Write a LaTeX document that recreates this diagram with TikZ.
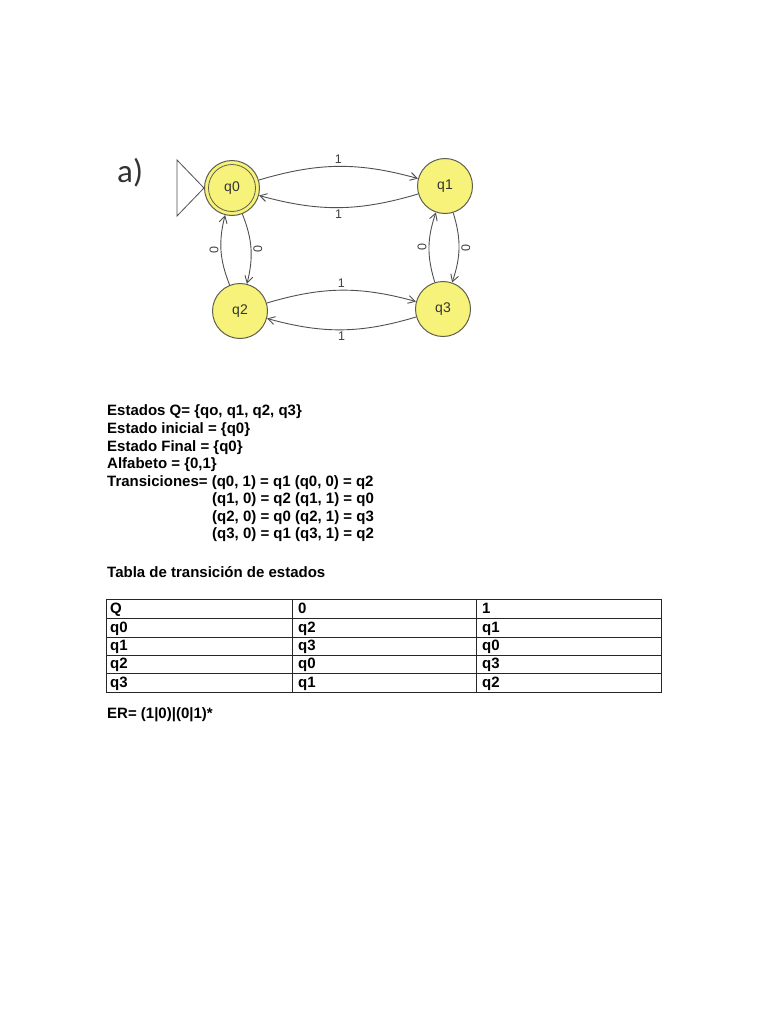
\documentclass[tikz,border=0pt]{standalone}
\usepackage{fontspec}
\setmainfont{Liberation Sans}
\newfontfamily\partfont{Carlito}
\usetikzlibrary{arrows.meta, positioning}

\definecolor{stateyellow}{RGB}{247,242,122}
\definecolor{stateline}{RGB}{95,95,80}
\definecolor{edgegray}{RGB}{80,80,80}

\begin{document}
\begin{tikzpicture}[
    x=1bp, y=-1bp,
    state/.style={
        circle, draw=stateline, fill=stateyellow, line width=1bp,
        minimum size=55bp, inner sep=0pt,
        font=\fontsize{14bp}{16bp}\selectfont, text=black!80
    },
    trans/.style={-{Straight Barb[length=7bp, width=8bp]}, draw=edgegray, line width=0.9bp},
    sym/.style={font=\fontsize{12.5bp}{14bp}\selectfont, text=black!75, inner sep=2bp},
    txt/.style={anchor=base west, inner sep=0pt, font=\fontsize{15bp}{17bp}\selectfont\bfseries},
    grid/.style={draw=black!85, line width=0.9bp}
]

% page
\fill[white] (0,0) rectangle (768,1024);
\useasboundingbox (0,0) rectangle (768,1024);

% part label
\node[anchor=base west, inner sep=0pt, font=\partfont\fontsize{33bp}{36bp}\selectfont, text=black!80] (part) at (117,182) {a)};

% States
\node[state] (q0) at (232,188) {q0};
\node[state] (q1) at (445,186) {q1};
\node[state] (q2) at (240,311) {q2};
\node[state] (q3) at (443,309) {q3};
\draw[stateline, line width=0.8bp] (q0.center) circle[radius=23.5bp];

% initial marker
\draw[edgegray, line width=0.8bp] (q0.west) -- ++(-27,-28) -- ++(0,56) -- cycle;

% Transitions on 1
\draw[trans] (q0) to[bend left=16] node[sym, above] {1} (q1);
\draw[trans] (q1) to[bend left=16] node[sym, below] {1} (q0);
\draw[trans] (q2) to[bend left=16] node[sym, above] {1} (q3);
\draw[trans] (q3) to[bend left=16] node[sym, below] {1} (q2);

% Transitions on 0
\draw[trans] (q0) to[bend left=18] node[sym, rotate=90, below] {0} (q2);
\draw[trans] (q2) to[bend left=18] node[sym, rotate=90, above] {0} (q0);
\draw[trans] (q1) to[bend left=18] node[sym, rotate=90, below] {0} (q3);
\draw[trans] (q3) to[bend left=18] node[sym, rotate=90, above] {0} (q1);

% Definition of the automaton
\node[txt] (states) at (107,415) {Estados Q= \{qo, q1, q2, q3\}};
\node[txt] (start)  at (107,433) {Estado inicial = \{q0\}};
\node[txt] (final)  at (107,451) {Estado Final = \{q0\}};
\node[txt] (alpha)  at (107,468) {Alfabeto = \{0,1\}};
\node[txt] (delta1) at (107,486) {Transiciones= (q0, 1) = q1 (q0, 0) = q2};
\node[txt] (delta2) at (212,503) {(q1, 0) = q2 (q1, 1) = q0};
\node[txt] (delta3) at (212,521) {(q2, 0) = q0 (q2, 1) = q3};
\node[txt] (delta4) at (212,538) {(q3, 0) = q1 (q3, 1) = q2};

% Transition table
\node[txt] (tabtitle) at (107,577) {Tabla de transición de estados};

\draw[grid] (106,599) rectangle (661,692);
\draw[grid] (106,618) -- (661,618);
\draw[grid] (106,637) -- (661,637);
\draw[grid] (106,655) -- (661,655);
\draw[grid] (106,673) -- (661,673);
\draw[grid] (292,599) -- (292,692);
\draw[grid] (476,599) -- (476,692);

\node[txt] (hQ)  at (110,613) {Q};
\node[txt] (h0)  at (298,613) {0};
\node[txt] (h1)  at (482,613) {1};
\node[txt] (r0)  at (110,632) {q0};
\node[txt] (r0a) at (298,632) {q2};
\node[txt] (r0b) at (482,632) {q1};
\node[txt] (r1)  at (110,650) {q1};
\node[txt] (r1a) at (298,650) {q3};
\node[txt] (r1b) at (482,650) {q0};
\node[txt] (r2)  at (110,668) {q2};
\node[txt] (r2a) at (298,668) {q0};
\node[txt] (r2b) at (482,668) {q3};
\node[txt] (r3)  at (110,687) {q3};
\node[txt] (r3a) at (298,687) {q1};
\node[txt] (r3b) at (482,687) {q2};

% Regular expression
\node[txt] (regex) at (107,718) {ER= (1|0)|(0|1)*};

\end{tikzpicture}
\end{document}
